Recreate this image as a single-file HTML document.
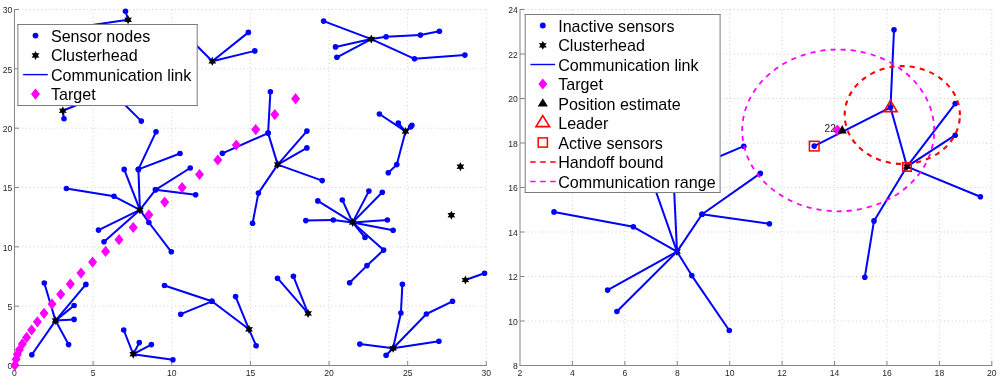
<!DOCTYPE html>
<html><head><meta charset="utf-8"><style>
html,body{margin:0;padding:0;background:#fff;width:1000px;height:380px;overflow:hidden}
svg{display:block}
</style></head><body>
<svg width="1000" height="380" viewBox="0 0 1000 380" font-family="'Liberation Sans', sans-serif">
<rect width="1000" height="380" fill="#fff"/>
<line x1="93.14" y1="9.5" x2="93.14" y2="365.5" stroke="#cdcdcd" stroke-width="1" stroke-dasharray="1 2.82"/>
<line x1="171.77" y1="9.5" x2="171.77" y2="365.5" stroke="#cdcdcd" stroke-width="1" stroke-dasharray="1 2.82"/>
<line x1="250.41" y1="9.5" x2="250.41" y2="365.5" stroke="#cdcdcd" stroke-width="1" stroke-dasharray="1 2.82"/>
<line x1="329.04" y1="9.5" x2="329.04" y2="365.5" stroke="#cdcdcd" stroke-width="1" stroke-dasharray="1 2.82"/>
<line x1="407.68" y1="9.5" x2="407.68" y2="365.5" stroke="#cdcdcd" stroke-width="1" stroke-dasharray="1 2.82"/>
<line x1="486.31" y1="9.5" x2="486.31" y2="365.5" stroke="#cdcdcd" stroke-width="1" stroke-dasharray="1 2.82"/>
<line x1="14.5" y1="306.16" x2="486.3" y2="306.16" stroke="#cdcdcd" stroke-width="1" stroke-dasharray="1 2.82"/>
<line x1="14.5" y1="246.83" x2="486.3" y2="246.83" stroke="#cdcdcd" stroke-width="1" stroke-dasharray="1 2.82"/>
<line x1="14.5" y1="187.49" x2="486.3" y2="187.49" stroke="#cdcdcd" stroke-width="1" stroke-dasharray="1 2.82"/>
<line x1="14.5" y1="128.16" x2="486.3" y2="128.16" stroke="#cdcdcd" stroke-width="1" stroke-dasharray="1 2.82"/>
<line x1="14.5" y1="68.82" x2="486.3" y2="68.82" stroke="#cdcdcd" stroke-width="1" stroke-dasharray="1 2.82"/>
<line x1="14.5" y1="9.49" x2="486.3" y2="9.49" stroke="#cdcdcd" stroke-width="1" stroke-dasharray="1 2.82"/>
<line x1="572.42" y1="9.5" x2="572.42" y2="365.5" stroke="#cdcdcd" stroke-width="1" stroke-dasharray="1 2.82"/>
<line x1="624.84" y1="9.5" x2="624.84" y2="365.5" stroke="#cdcdcd" stroke-width="1" stroke-dasharray="1 2.82"/>
<line x1="677.27" y1="9.5" x2="677.27" y2="365.5" stroke="#cdcdcd" stroke-width="1" stroke-dasharray="1 2.82"/>
<line x1="729.69" y1="9.5" x2="729.69" y2="365.5" stroke="#cdcdcd" stroke-width="1" stroke-dasharray="1 2.82"/>
<line x1="782.11" y1="9.5" x2="782.11" y2="365.5" stroke="#cdcdcd" stroke-width="1" stroke-dasharray="1 2.82"/>
<line x1="834.53" y1="9.5" x2="834.53" y2="365.5" stroke="#cdcdcd" stroke-width="1" stroke-dasharray="1 2.82"/>
<line x1="886.95" y1="9.5" x2="886.95" y2="365.5" stroke="#cdcdcd" stroke-width="1" stroke-dasharray="1 2.82"/>
<line x1="939.38" y1="9.5" x2="939.38" y2="365.5" stroke="#cdcdcd" stroke-width="1" stroke-dasharray="1 2.82"/>
<line x1="991.8" y1="9.5" x2="991.8" y2="365.5" stroke="#cdcdcd" stroke-width="1" stroke-dasharray="1 2.82"/>
<line x1="520" y1="321" x2="991.8" y2="321" stroke="#cdcdcd" stroke-width="1" stroke-dasharray="1 2.82"/>
<line x1="520" y1="276.5" x2="991.8" y2="276.5" stroke="#cdcdcd" stroke-width="1" stroke-dasharray="1 2.82"/>
<line x1="520" y1="232" x2="991.8" y2="232" stroke="#cdcdcd" stroke-width="1" stroke-dasharray="1 2.82"/>
<line x1="520" y1="187.5" x2="991.8" y2="187.5" stroke="#cdcdcd" stroke-width="1" stroke-dasharray="1 2.82"/>
<line x1="520" y1="143" x2="991.8" y2="143" stroke="#cdcdcd" stroke-width="1" stroke-dasharray="1 2.82"/>
<line x1="520" y1="98.5" x2="991.8" y2="98.5" stroke="#cdcdcd" stroke-width="1" stroke-dasharray="1 2.82"/>
<line x1="520" y1="54" x2="991.8" y2="54" stroke="#cdcdcd" stroke-width="1" stroke-dasharray="1 2.82"/>
<line x1="520" y1="9.5" x2="991.8" y2="9.5" stroke="#cdcdcd" stroke-width="1" stroke-dasharray="1 2.82"/>
<line x1="14.5" y1="9" x2="14.5" y2="366" stroke="#858585" stroke-width="1" />
<line x1="14" y1="365.5" x2="486.8" y2="365.5" stroke="#858585" stroke-width="1" />
<line x1="93.14" y1="365.5" x2="93.14" y2="361" stroke="#858585" stroke-width="1" />
<line x1="171.77" y1="365.5" x2="171.77" y2="361" stroke="#858585" stroke-width="1" />
<line x1="250.41" y1="365.5" x2="250.41" y2="361" stroke="#858585" stroke-width="1" />
<line x1="329.04" y1="365.5" x2="329.04" y2="361" stroke="#858585" stroke-width="1" />
<line x1="407.68" y1="365.5" x2="407.68" y2="361" stroke="#858585" stroke-width="1" />
<line x1="486.31" y1="365.5" x2="486.31" y2="361" stroke="#858585" stroke-width="1" />
<line x1="14.5" y1="306.16" x2="19" y2="306.16" stroke="#858585" stroke-width="1" />
<line x1="14.5" y1="246.83" x2="19" y2="246.83" stroke="#858585" stroke-width="1" />
<line x1="14.5" y1="187.49" x2="19" y2="187.49" stroke="#858585" stroke-width="1" />
<line x1="14.5" y1="128.16" x2="19" y2="128.16" stroke="#858585" stroke-width="1" />
<line x1="14.5" y1="68.82" x2="19" y2="68.82" stroke="#858585" stroke-width="1" />
<line x1="14.5" y1="9.49" x2="19" y2="9.49" stroke="#858585" stroke-width="1" />
<text transform="translate(14.5,375.9) scale(1,1.1)" font-size="8.6" text-anchor="middle" fill="#262626" >0</text>
<text transform="translate(93.14,375.9) scale(1,1.1)" font-size="8.6" text-anchor="middle" fill="#262626" >5</text>
<text transform="translate(171.77,375.9) scale(1,1.1)" font-size="8.6" text-anchor="middle" fill="#262626" >10</text>
<text transform="translate(250.41,375.9) scale(1,1.1)" font-size="8.6" text-anchor="middle" fill="#262626" >15</text>
<text transform="translate(329.04,375.9) scale(1,1.1)" font-size="8.6" text-anchor="middle" fill="#262626" >20</text>
<text transform="translate(407.68,375.9) scale(1,1.1)" font-size="8.6" text-anchor="middle" fill="#262626" >25</text>
<text transform="translate(486.31,375.9) scale(1,1.1)" font-size="8.6" text-anchor="middle" fill="#262626" >30</text>
<text transform="translate(12.2,369.2) scale(1,1.1)" font-size="8.6" text-anchor="end" fill="#262626" >0</text>
<text transform="translate(12.2,309.86) scale(1,1.1)" font-size="8.6" text-anchor="end" fill="#262626" >5</text>
<text transform="translate(12.2,250.53) scale(1,1.1)" font-size="8.6" text-anchor="end" fill="#262626" >10</text>
<text transform="translate(12.2,191.19) scale(1,1.1)" font-size="8.6" text-anchor="end" fill="#262626" >15</text>
<text transform="translate(12.2,131.86) scale(1,1.1)" font-size="8.6" text-anchor="end" fill="#262626" >20</text>
<text transform="translate(12.2,72.52) scale(1,1.1)" font-size="8.6" text-anchor="end" fill="#262626" >25</text>
<text transform="translate(12.2,13.19) scale(1,1.1)" font-size="8.6" text-anchor="end" fill="#262626" >30</text>
<line x1="520" y1="9" x2="520" y2="366" stroke="#858585" stroke-width="1" />
<line x1="519.5" y1="365.5" x2="992.3" y2="365.5" stroke="#858585" stroke-width="1" />
<line x1="572.42" y1="365.5" x2="572.42" y2="361" stroke="#858585" stroke-width="1" />
<line x1="624.84" y1="365.5" x2="624.84" y2="361" stroke="#858585" stroke-width="1" />
<line x1="677.27" y1="365.5" x2="677.27" y2="361" stroke="#858585" stroke-width="1" />
<line x1="729.69" y1="365.5" x2="729.69" y2="361" stroke="#858585" stroke-width="1" />
<line x1="782.11" y1="365.5" x2="782.11" y2="361" stroke="#858585" stroke-width="1" />
<line x1="834.53" y1="365.5" x2="834.53" y2="361" stroke="#858585" stroke-width="1" />
<line x1="886.95" y1="365.5" x2="886.95" y2="361" stroke="#858585" stroke-width="1" />
<line x1="939.38" y1="365.5" x2="939.38" y2="361" stroke="#858585" stroke-width="1" />
<line x1="991.8" y1="365.5" x2="991.8" y2="361" stroke="#858585" stroke-width="1" />
<line x1="520" y1="321" x2="524.5" y2="321" stroke="#858585" stroke-width="1" />
<line x1="520" y1="276.5" x2="524.5" y2="276.5" stroke="#858585" stroke-width="1" />
<line x1="520" y1="232" x2="524.5" y2="232" stroke="#858585" stroke-width="1" />
<line x1="520" y1="187.5" x2="524.5" y2="187.5" stroke="#858585" stroke-width="1" />
<line x1="520" y1="143" x2="524.5" y2="143" stroke="#858585" stroke-width="1" />
<line x1="520" y1="98.5" x2="524.5" y2="98.5" stroke="#858585" stroke-width="1" />
<line x1="520" y1="54" x2="524.5" y2="54" stroke="#858585" stroke-width="1" />
<line x1="520" y1="9.5" x2="524.5" y2="9.5" stroke="#858585" stroke-width="1" />
<text transform="translate(520,375.9) scale(1,1.1)" font-size="8.6" text-anchor="middle" fill="#262626" >2</text>
<text transform="translate(572.42,375.9) scale(1,1.1)" font-size="8.6" text-anchor="middle" fill="#262626" >4</text>
<text transform="translate(624.84,375.9) scale(1,1.1)" font-size="8.6" text-anchor="middle" fill="#262626" >6</text>
<text transform="translate(677.27,375.9) scale(1,1.1)" font-size="8.6" text-anchor="middle" fill="#262626" >8</text>
<text transform="translate(729.69,375.9) scale(1,1.1)" font-size="8.6" text-anchor="middle" fill="#262626" >10</text>
<text transform="translate(782.11,375.9) scale(1,1.1)" font-size="8.6" text-anchor="middle" fill="#262626" >12</text>
<text transform="translate(834.53,375.9) scale(1,1.1)" font-size="8.6" text-anchor="middle" fill="#262626" >14</text>
<text transform="translate(886.95,375.9) scale(1,1.1)" font-size="8.6" text-anchor="middle" fill="#262626" >16</text>
<text transform="translate(939.38,375.9) scale(1,1.1)" font-size="8.6" text-anchor="middle" fill="#262626" >18</text>
<text transform="translate(991.8,375.9) scale(1,1.1)" font-size="8.6" text-anchor="middle" fill="#262626" >20</text>
<text transform="translate(517.7,369.2) scale(1,1.1)" font-size="8.6" text-anchor="end" fill="#262626" >8</text>
<text transform="translate(517.7,324.7) scale(1,1.1)" font-size="8.6" text-anchor="end" fill="#262626" >10</text>
<text transform="translate(517.7,280.2) scale(1,1.1)" font-size="8.6" text-anchor="end" fill="#262626" >12</text>
<text transform="translate(517.7,235.7) scale(1,1.1)" font-size="8.6" text-anchor="end" fill="#262626" >14</text>
<text transform="translate(517.7,191.2) scale(1,1.1)" font-size="8.6" text-anchor="end" fill="#262626" >16</text>
<text transform="translate(517.7,146.7) scale(1,1.1)" font-size="8.6" text-anchor="end" fill="#262626" >18</text>
<text transform="translate(517.7,102.2) scale(1,1.1)" font-size="8.6" text-anchor="end" fill="#262626" >20</text>
<text transform="translate(517.7,57.7) scale(1,1.1)" font-size="8.6" text-anchor="end" fill="#262626" >22</text>
<text transform="translate(517.7,13.2) scale(1,1.1)" font-size="8.6" text-anchor="end" fill="#262626" >24</text>
<line x1="128.1" y1="19.8" x2="125.5" y2="11.25" stroke="#0000ff" stroke-width="2.0" />
<line x1="128.1" y1="19.8" x2="60" y2="29.7" stroke="#0000ff" stroke-width="2.0" />
<line x1="62.8" y1="110.75" x2="64" y2="118.75" stroke="#0000ff" stroke-width="2.0" />
<line x1="62.8" y1="110.75" x2="90" y2="99.5" stroke="#0000ff" stroke-width="2.0" />
<line x1="212.3" y1="61.3" x2="248.4" y2="32.4" stroke="#0000ff" stroke-width="2.0" />
<line x1="212.3" y1="61.3" x2="254.8" y2="50.9" stroke="#0000ff" stroke-width="2.0" />
<line x1="212.3" y1="61.3" x2="185" y2="34" stroke="#0000ff" stroke-width="2.0" />
<line x1="371.3" y1="39.1" x2="323.6" y2="21.1" stroke="#0000ff" stroke-width="2.0" />
<line x1="371.3" y1="39.1" x2="335.5" y2="46.9" stroke="#0000ff" stroke-width="2.0" />
<line x1="371.3" y1="39.1" x2="336.9" y2="57.3" stroke="#0000ff" stroke-width="2.0" />
<line x1="371.3" y1="39.1" x2="386.1" y2="36.7" stroke="#0000ff" stroke-width="2.0" />
<line x1="386.1" y1="36.7" x2="420.4" y2="35.1" stroke="#0000ff" stroke-width="2.0" />
<line x1="420.4" y1="35.1" x2="439.4" y2="31.3" stroke="#0000ff" stroke-width="2.0" />
<line x1="371.3" y1="39.1" x2="414.5" y2="58.8" stroke="#0000ff" stroke-width="2.0" />
<line x1="414.5" y1="58.8" x2="464.9" y2="55.1" stroke="#0000ff" stroke-width="2.0" />
<line x1="139.9" y1="209.9" x2="124.2" y2="169.4" stroke="#0000ff" stroke-width="2.0" />
<line x1="139.9" y1="209.9" x2="138.4" y2="169.4" stroke="#0000ff" stroke-width="2.0" />
<line x1="138.4" y1="169.4" x2="156" y2="131.8" stroke="#0000ff" stroke-width="2.0" />
<line x1="138.4" y1="169.4" x2="180" y2="153.5" stroke="#0000ff" stroke-width="2.0" />
<line x1="139.9" y1="209.9" x2="114" y2="196.3" stroke="#0000ff" stroke-width="2.0" />
<line x1="114" y1="196.3" x2="66.4" y2="188.5" stroke="#0000ff" stroke-width="2.0" />
<line x1="139.9" y1="209.9" x2="155.5" y2="189.8" stroke="#0000ff" stroke-width="2.0" />
<line x1="155.5" y1="189.8" x2="190.2" y2="168" stroke="#0000ff" stroke-width="2.0" />
<line x1="155.5" y1="189.8" x2="195.6" y2="194.8" stroke="#0000ff" stroke-width="2.0" />
<line x1="139.9" y1="209.9" x2="98.5" y2="230.1" stroke="#0000ff" stroke-width="2.0" />
<line x1="139.9" y1="209.9" x2="104" y2="241.7" stroke="#0000ff" stroke-width="2.0" />
<line x1="139.9" y1="209.9" x2="148.9" y2="222.5" stroke="#0000ff" stroke-width="2.0" />
<line x1="148.9" y1="222.5" x2="171.3" y2="251.8" stroke="#0000ff" stroke-width="2.0" />
<line x1="141.3" y1="121.1" x2="110" y2="90" stroke="#0000ff" stroke-width="2.0" />
<line x1="277.7" y1="164.6" x2="268.1" y2="133.1" stroke="#0000ff" stroke-width="2.0" />
<line x1="268.1" y1="133.1" x2="270.4" y2="91.7" stroke="#0000ff" stroke-width="2.0" />
<line x1="268.1" y1="133.1" x2="222.4" y2="153.3" stroke="#0000ff" stroke-width="2.0" />
<line x1="277.7" y1="164.6" x2="306.9" y2="131.1" stroke="#0000ff" stroke-width="2.0" />
<line x1="277.7" y1="164.6" x2="306.9" y2="147.9" stroke="#0000ff" stroke-width="2.0" />
<line x1="277.7" y1="164.6" x2="322.2" y2="180.6" stroke="#0000ff" stroke-width="2.0" />
<line x1="277.7" y1="164.6" x2="258.4" y2="193.1" stroke="#0000ff" stroke-width="2.0" />
<line x1="258.4" y1="193.1" x2="252.6" y2="223.3" stroke="#0000ff" stroke-width="2.0" />
<line x1="405.5" y1="131.4" x2="398.3" y2="123.1" stroke="#0000ff" stroke-width="2.0" />
<line x1="405.5" y1="131.4" x2="379.4" y2="114" stroke="#0000ff" stroke-width="2.0" />
<line x1="405.5" y1="131.4" x2="410.6" y2="127" stroke="#0000ff" stroke-width="2.0" />
<line x1="405.5" y1="131.4" x2="411.9" y2="125.3" stroke="#0000ff" stroke-width="2.0" />
<line x1="405.5" y1="131.4" x2="396.8" y2="164.6" stroke="#0000ff" stroke-width="2.0" />
<line x1="396.8" y1="164.6" x2="388.3" y2="172.8" stroke="#0000ff" stroke-width="2.0" />
<line x1="352.6" y1="222.4" x2="317.8" y2="200.9" stroke="#0000ff" stroke-width="2.0" />
<line x1="352.6" y1="222.4" x2="342.3" y2="200" stroke="#0000ff" stroke-width="2.0" />
<line x1="352.6" y1="222.4" x2="368.9" y2="191.1" stroke="#0000ff" stroke-width="2.0" />
<line x1="352.6" y1="222.4" x2="382.3" y2="192.3" stroke="#0000ff" stroke-width="2.0" />
<line x1="352.6" y1="222.4" x2="387.4" y2="220" stroke="#0000ff" stroke-width="2.0" />
<line x1="352.6" y1="222.4" x2="393.1" y2="230.2" stroke="#0000ff" stroke-width="2.0" />
<line x1="352.6" y1="222.4" x2="365" y2="237.5" stroke="#0000ff" stroke-width="2.0" />
<line x1="352.6" y1="222.4" x2="333.3" y2="220" stroke="#0000ff" stroke-width="2.0" />
<line x1="333.3" y1="220" x2="305.8" y2="220.6" stroke="#0000ff" stroke-width="2.0" />
<line x1="352.6" y1="222.4" x2="383.6" y2="250.1" stroke="#0000ff" stroke-width="2.0" />
<line x1="383.6" y1="250.1" x2="367" y2="265.6" stroke="#0000ff" stroke-width="2.0" />
<line x1="367" y1="265.6" x2="349.6" y2="282.7" stroke="#0000ff" stroke-width="2.0" />
<line x1="55.5" y1="320.6" x2="44.3" y2="283" stroke="#0000ff" stroke-width="2.0" />
<line x1="55.5" y1="320.6" x2="85.9" y2="284.4" stroke="#0000ff" stroke-width="2.0" />
<line x1="55.5" y1="320.6" x2="74.1" y2="305.5" stroke="#0000ff" stroke-width="2.0" />
<line x1="55.5" y1="320.6" x2="74.1" y2="319.4" stroke="#0000ff" stroke-width="2.0" />
<line x1="55.5" y1="320.6" x2="68.6" y2="344.6" stroke="#0000ff" stroke-width="2.0" />
<line x1="55.5" y1="320.6" x2="31.8" y2="354.7" stroke="#0000ff" stroke-width="2.0" />
<line x1="133.2" y1="354.2" x2="123.7" y2="330" stroke="#0000ff" stroke-width="2.0" />
<line x1="133.2" y1="354.2" x2="139.3" y2="342.6" stroke="#0000ff" stroke-width="2.0" />
<line x1="133.2" y1="354.2" x2="151.4" y2="344.6" stroke="#0000ff" stroke-width="2.0" />
<line x1="133.2" y1="354.2" x2="172.9" y2="359.7" stroke="#0000ff" stroke-width="2.0" />
<line x1="249" y1="329.3" x2="211.9" y2="301.3" stroke="#0000ff" stroke-width="2.0" />
<line x1="211.9" y1="301.3" x2="164.5" y2="285.5" stroke="#0000ff" stroke-width="2.0" />
<line x1="211.9" y1="301.3" x2="180.7" y2="314.2" stroke="#0000ff" stroke-width="2.0" />
<line x1="249" y1="329.3" x2="235.6" y2="296.6" stroke="#0000ff" stroke-width="2.0" />
<line x1="249" y1="329.3" x2="256.1" y2="345.7" stroke="#0000ff" stroke-width="2.0" />
<line x1="308.1" y1="313.4" x2="277.5" y2="278.2" stroke="#0000ff" stroke-width="2.0" />
<line x1="308.1" y1="313.4" x2="293.4" y2="276.3" stroke="#0000ff" stroke-width="2.0" />
<line x1="393.1" y1="348.3" x2="359.8" y2="344.1" stroke="#0000ff" stroke-width="2.0" />
<line x1="393.1" y1="348.3" x2="386.1" y2="355.3" stroke="#0000ff" stroke-width="2.0" />
<line x1="393.1" y1="348.3" x2="400.9" y2="313" stroke="#0000ff" stroke-width="2.0" />
<line x1="400.9" y1="313" x2="402.4" y2="284.2" stroke="#0000ff" stroke-width="2.0" />
<line x1="393.1" y1="348.3" x2="426.4" y2="314" stroke="#0000ff" stroke-width="2.0" />
<line x1="426.4" y1="314" x2="452.5" y2="301.3" stroke="#0000ff" stroke-width="2.0" />
<line x1="393.1" y1="348.3" x2="438.9" y2="341.3" stroke="#0000ff" stroke-width="2.0" />
<line x1="465.4" y1="280" x2="484.5" y2="273.2" stroke="#0000ff" stroke-width="2.0" />
<circle cx="125.5" cy="11.25" r="2.8" fill="#0000ff"/>
<circle cx="64" cy="118.75" r="2.8" fill="#0000ff"/>
<circle cx="248.4" cy="32.4" r="2.8" fill="#0000ff"/>
<circle cx="254.8" cy="50.9" r="2.8" fill="#0000ff"/>
<circle cx="323.6" cy="21.1" r="2.8" fill="#0000ff"/>
<circle cx="335.5" cy="46.9" r="2.8" fill="#0000ff"/>
<circle cx="336.9" cy="57.3" r="2.8" fill="#0000ff"/>
<circle cx="386.1" cy="36.7" r="2.8" fill="#0000ff"/>
<circle cx="420.4" cy="35.1" r="2.8" fill="#0000ff"/>
<circle cx="439.4" cy="31.3" r="2.8" fill="#0000ff"/>
<circle cx="414.5" cy="58.8" r="2.8" fill="#0000ff"/>
<circle cx="464.9" cy="55.1" r="2.8" fill="#0000ff"/>
<circle cx="124.2" cy="169.4" r="2.8" fill="#0000ff"/>
<circle cx="138.4" cy="169.4" r="2.8" fill="#0000ff"/>
<circle cx="156" cy="131.8" r="2.8" fill="#0000ff"/>
<circle cx="138.4" cy="169.4" r="2.8" fill="#0000ff"/>
<circle cx="180" cy="153.5" r="2.8" fill="#0000ff"/>
<circle cx="114" cy="196.3" r="2.8" fill="#0000ff"/>
<circle cx="66.4" cy="188.5" r="2.8" fill="#0000ff"/>
<circle cx="155.5" cy="189.8" r="2.8" fill="#0000ff"/>
<circle cx="190.2" cy="168" r="2.8" fill="#0000ff"/>
<circle cx="155.5" cy="189.8" r="2.8" fill="#0000ff"/>
<circle cx="195.6" cy="194.8" r="2.8" fill="#0000ff"/>
<circle cx="98.5" cy="230.1" r="2.8" fill="#0000ff"/>
<circle cx="104" cy="241.7" r="2.8" fill="#0000ff"/>
<circle cx="148.9" cy="222.5" r="2.8" fill="#0000ff"/>
<circle cx="171.3" cy="251.8" r="2.8" fill="#0000ff"/>
<circle cx="141.3" cy="121.1" r="2.8" fill="#0000ff"/>
<circle cx="268.1" cy="133.1" r="2.8" fill="#0000ff"/>
<circle cx="270.4" cy="91.7" r="2.8" fill="#0000ff"/>
<circle cx="268.1" cy="133.1" r="2.8" fill="#0000ff"/>
<circle cx="222.4" cy="153.3" r="2.8" fill="#0000ff"/>
<circle cx="306.9" cy="131.1" r="2.8" fill="#0000ff"/>
<circle cx="306.9" cy="147.9" r="2.8" fill="#0000ff"/>
<circle cx="322.2" cy="180.6" r="2.8" fill="#0000ff"/>
<circle cx="258.4" cy="193.1" r="2.8" fill="#0000ff"/>
<circle cx="252.6" cy="223.3" r="2.8" fill="#0000ff"/>
<circle cx="398.3" cy="123.1" r="2.8" fill="#0000ff"/>
<circle cx="379.4" cy="114" r="2.8" fill="#0000ff"/>
<circle cx="410.6" cy="127" r="2.8" fill="#0000ff"/>
<circle cx="411.9" cy="125.3" r="2.8" fill="#0000ff"/>
<circle cx="396.8" cy="164.6" r="2.8" fill="#0000ff"/>
<circle cx="388.3" cy="172.8" r="2.8" fill="#0000ff"/>
<circle cx="317.8" cy="200.9" r="2.8" fill="#0000ff"/>
<circle cx="342.3" cy="200" r="2.8" fill="#0000ff"/>
<circle cx="368.9" cy="191.1" r="2.8" fill="#0000ff"/>
<circle cx="382.3" cy="192.3" r="2.8" fill="#0000ff"/>
<circle cx="387.4" cy="220" r="2.8" fill="#0000ff"/>
<circle cx="393.1" cy="230.2" r="2.8" fill="#0000ff"/>
<circle cx="365" cy="237.5" r="2.8" fill="#0000ff"/>
<circle cx="333.3" cy="220" r="2.8" fill="#0000ff"/>
<circle cx="305.8" cy="220.6" r="2.8" fill="#0000ff"/>
<circle cx="383.6" cy="250.1" r="2.8" fill="#0000ff"/>
<circle cx="367" cy="265.6" r="2.8" fill="#0000ff"/>
<circle cx="349.6" cy="282.7" r="2.8" fill="#0000ff"/>
<circle cx="44.3" cy="283" r="2.8" fill="#0000ff"/>
<circle cx="85.9" cy="284.4" r="2.8" fill="#0000ff"/>
<circle cx="74.1" cy="305.5" r="2.8" fill="#0000ff"/>
<circle cx="74.1" cy="319.4" r="2.8" fill="#0000ff"/>
<circle cx="68.6" cy="344.6" r="2.8" fill="#0000ff"/>
<circle cx="31.8" cy="354.7" r="2.8" fill="#0000ff"/>
<circle cx="123.7" cy="330" r="2.8" fill="#0000ff"/>
<circle cx="139.3" cy="342.6" r="2.8" fill="#0000ff"/>
<circle cx="151.4" cy="344.6" r="2.8" fill="#0000ff"/>
<circle cx="172.9" cy="359.7" r="2.8" fill="#0000ff"/>
<circle cx="211.9" cy="301.3" r="2.8" fill="#0000ff"/>
<circle cx="164.5" cy="285.5" r="2.8" fill="#0000ff"/>
<circle cx="211.9" cy="301.3" r="2.8" fill="#0000ff"/>
<circle cx="180.7" cy="314.2" r="2.8" fill="#0000ff"/>
<circle cx="235.6" cy="296.6" r="2.8" fill="#0000ff"/>
<circle cx="256.1" cy="345.7" r="2.8" fill="#0000ff"/>
<circle cx="277.5" cy="278.2" r="2.8" fill="#0000ff"/>
<circle cx="293.4" cy="276.3" r="2.8" fill="#0000ff"/>
<circle cx="359.8" cy="344.1" r="2.8" fill="#0000ff"/>
<circle cx="386.1" cy="355.3" r="2.8" fill="#0000ff"/>
<circle cx="400.9" cy="313" r="2.8" fill="#0000ff"/>
<circle cx="402.4" cy="284.2" r="2.8" fill="#0000ff"/>
<circle cx="426.4" cy="314" r="2.8" fill="#0000ff"/>
<circle cx="452.5" cy="301.3" r="2.8" fill="#0000ff"/>
<circle cx="438.9" cy="341.3" r="2.8" fill="#0000ff"/>
<circle cx="484.5" cy="273.2" r="2.8" fill="#0000ff"/>
<polygon points="14.9,359.6 19.4,365.2 14.9,370.8 10.4,365.2" fill="#ff00ff"/>
<polygon points="16.1,353.6 20.6,359.2 16.1,364.8 11.6,359.2" fill="#ff00ff"/>
<polygon points="17.4,349 21.9,354.6 17.4,360.2 12.9,354.6" fill="#ff00ff"/>
<polygon points="19.4,344.2 23.9,349.8 19.4,355.4 14.9,349.8" fill="#ff00ff"/>
<polygon points="22.4,338.3 26.9,343.9 22.4,349.5 17.9,343.9" fill="#ff00ff"/>
<polygon points="26.6,331.8 31.1,337.4 26.6,343 22.1,337.4" fill="#ff00ff"/>
<polygon points="31.6,324.4 36.1,330 31.6,335.6 27.1,330" fill="#ff00ff"/>
<polygon points="37.4,316.2 41.9,321.8 37.4,327.4 32.9,321.8" fill="#ff00ff"/>
<polygon points="44,307.7 48.5,313.3 44,318.9 39.5,313.3" fill="#ff00ff"/>
<polygon points="52,298.4 56.5,304 52,309.6 47.5,304" fill="#ff00ff"/>
<polygon points="60.7,288.7 65.2,294.3 60.7,299.9 56.2,294.3" fill="#ff00ff"/>
<polygon points="70.3,278.5 74.8,284.1 70.3,289.7 65.8,284.1" fill="#ff00ff"/>
<polygon points="81,267.5 85.5,273.1 81,278.7 76.5,273.1" fill="#ff00ff"/>
<polygon points="92.6,256.5 97.1,262.1 92.6,267.7 88.1,262.1" fill="#ff00ff"/>
<polygon points="105.6,245.8 110.1,251.4 105.6,257 101.1,251.4" fill="#ff00ff"/>
<polygon points="119,234.1 123.5,239.7 119,245.3 114.5,239.7" fill="#ff00ff"/>
<polygon points="133.2,221.9 137.7,227.5 133.2,233.1 128.7,227.5" fill="#ff00ff"/>
<polygon points="148.8,209.2 153.3,214.8 148.8,220.4 144.3,214.8" fill="#ff00ff"/>
<polygon points="164.7,196.5 169.2,202.1 164.7,207.7 160.2,202.1" fill="#ff00ff"/>
<polygon points="182.1,182 186.6,187.6 182.1,193.2 177.6,187.6" fill="#ff00ff"/>
<polygon points="199.5,168.9 204,174.5 199.5,180.1 195,174.5" fill="#ff00ff"/>
<polygon points="217.8,154.4 222.3,160 217.8,165.6 213.3,160" fill="#ff00ff"/>
<polygon points="236.3,139.4 240.8,145 236.3,150.6 231.8,145" fill="#ff00ff"/>
<polygon points="255.7,124 260.2,129.6 255.7,135.2 251.2,129.6" fill="#ff00ff"/>
<polygon points="274.8,109 279.3,114.6 274.8,120.2 270.3,114.6" fill="#ff00ff"/>
<polygon points="295.6,93.1 300.1,98.7 295.6,104.3 291.1,98.7" fill="#ff00ff"/>
<polygon points="128.1,15.3 129.3,17.72 132,17.55 130.5,19.8 132,22.05 129.3,21.88 128.1,24.3 126.9,21.88 124.2,22.05 125.7,19.8 124.2,17.55 126.9,17.72" fill="#000"/>
<polygon points="62.8,106.25 64,108.67 66.7,108.5 65.2,110.75 66.7,113 64,112.83 62.8,115.25 61.6,112.83 58.9,113 60.4,110.75 58.9,108.5 61.6,108.67" fill="#000"/>
<polygon points="212.3,56.8 213.5,59.22 216.2,59.05 214.7,61.3 216.2,63.55 213.5,63.38 212.3,65.8 211.1,63.38 208.4,63.55 209.9,61.3 208.4,59.05 211.1,59.22" fill="#000"/>
<polygon points="371.3,34.6 372.5,37.02 375.2,36.85 373.7,39.1 375.2,41.35 372.5,41.18 371.3,43.6 370.1,41.18 367.4,41.35 368.9,39.1 367.4,36.85 370.1,37.02" fill="#000"/>
<polygon points="139.9,205.4 141.1,207.82 143.8,207.65 142.3,209.9 143.8,212.15 141.1,211.98 139.9,214.4 138.7,211.98 136,212.15 137.5,209.9 136,207.65 138.7,207.82" fill="#000"/>
<polygon points="277.7,160.1 278.9,162.52 281.6,162.35 280.1,164.6 281.6,166.85 278.9,166.68 277.7,169.1 276.5,166.68 273.8,166.85 275.3,164.6 273.8,162.35 276.5,162.52" fill="#000"/>
<polygon points="405.5,126.9 406.7,129.32 409.4,129.15 407.9,131.4 409.4,133.65 406.7,133.48 405.5,135.9 404.3,133.48 401.6,133.65 403.1,131.4 401.6,129.15 404.3,129.32" fill="#000"/>
<polygon points="460.4,162.2 461.6,164.62 464.3,164.45 462.8,166.7 464.3,168.95 461.6,168.78 460.4,171.2 459.2,168.78 456.5,168.95 458,166.7 456.5,164.45 459.2,164.62" fill="#000"/>
<polygon points="451.4,210.7 452.6,213.12 455.3,212.95 453.8,215.2 455.3,217.45 452.6,217.28 451.4,219.7 450.2,217.28 447.5,217.45 449,215.2 447.5,212.95 450.2,213.12" fill="#000"/>
<polygon points="352.6,217.9 353.8,220.32 356.5,220.15 355,222.4 356.5,224.65 353.8,224.48 352.6,226.9 351.4,224.48 348.7,224.65 350.2,222.4 348.7,220.15 351.4,220.32" fill="#000"/>
<polygon points="55.5,316.1 56.7,318.52 59.4,318.35 57.9,320.6 59.4,322.85 56.7,322.68 55.5,325.1 54.3,322.68 51.6,322.85 53.1,320.6 51.6,318.35 54.3,318.52" fill="#000"/>
<polygon points="133.2,349.7 134.4,352.12 137.1,351.95 135.6,354.2 137.1,356.45 134.4,356.28 133.2,358.7 132,356.28 129.3,356.45 130.8,354.2 129.3,351.95 132,352.12" fill="#000"/>
<polygon points="249,324.8 250.2,327.22 252.9,327.05 251.4,329.3 252.9,331.55 250.2,331.38 249,333.8 247.8,331.38 245.1,331.55 246.6,329.3 245.1,327.05 247.8,327.22" fill="#000"/>
<polygon points="308.1,308.9 309.3,311.32 312,311.15 310.5,313.4 312,315.65 309.3,315.48 308.1,317.9 306.9,315.48 304.2,315.65 305.7,313.4 304.2,311.15 306.9,311.32" fill="#000"/>
<polygon points="393.1,343.8 394.3,346.22 397,346.05 395.5,348.3 397,350.55 394.3,350.38 393.1,352.8 391.9,350.38 389.2,350.55 390.7,348.3 389.2,346.05 391.9,346.22" fill="#000"/>
<polygon points="465.4,275.5 466.6,277.92 469.3,277.75 467.8,280 469.3,282.25 466.6,282.08 465.4,284.5 464.2,282.08 461.5,282.25 463,280 461.5,277.75 464.2,277.92" fill="#000"/>
<polygon points="677,247.1 678.2,249.52 680.9,249.35 679.4,251.6 680.9,253.85 678.2,253.68 677,256.1 675.8,253.68 673.1,253.85 674.6,251.6 673.1,249.35 675.8,249.52" fill="#000"/>
<line x1="677" y1="251.6" x2="633.3" y2="226.8" stroke="#0000ff" stroke-width="2.0" />
<line x1="633.3" y1="226.8" x2="554" y2="211.9" stroke="#0000ff" stroke-width="2.0" />
<line x1="677" y1="251.6" x2="640" y2="146" stroke="#0000ff" stroke-width="2.0" />
<line x1="677" y1="251.6" x2="673.5" y2="176" stroke="#0000ff" stroke-width="2.0" />
<line x1="673.5" y1="176" x2="743.8" y2="146.2" stroke="#0000ff" stroke-width="2.0" />
<line x1="677" y1="251.6" x2="702.1" y2="214.3" stroke="#0000ff" stroke-width="2.0" />
<line x1="702.1" y1="214.3" x2="760.3" y2="173.4" stroke="#0000ff" stroke-width="2.0" />
<line x1="702.1" y1="214.3" x2="769.4" y2="223.8" stroke="#0000ff" stroke-width="2.0" />
<line x1="677" y1="251.6" x2="691.8" y2="275.6" stroke="#0000ff" stroke-width="2.0" />
<line x1="691.8" y1="275.6" x2="729.3" y2="330.5" stroke="#0000ff" stroke-width="2.0" />
<line x1="677" y1="251.6" x2="607.6" y2="290.1" stroke="#0000ff" stroke-width="2.0" />
<line x1="677" y1="251.6" x2="616.9" y2="311.5" stroke="#0000ff" stroke-width="2.0" />
<line x1="907" y1="166.6" x2="890.5" y2="107.4" stroke="#0000ff" stroke-width="2.0" />
<line x1="907" y1="166.6" x2="955.2" y2="103.6" stroke="#0000ff" stroke-width="2.0" />
<line x1="907" y1="166.6" x2="955.2" y2="135.2" stroke="#0000ff" stroke-width="2.0" />
<line x1="907" y1="166.6" x2="980.4" y2="196.7" stroke="#0000ff" stroke-width="2.0" />
<line x1="907" y1="166.6" x2="874" y2="220.9" stroke="#0000ff" stroke-width="2.0" />
<line x1="874" y1="220.9" x2="864.8" y2="277.2" stroke="#0000ff" stroke-width="2.0" />
<line x1="890.5" y1="107.4" x2="894" y2="29.8" stroke="#0000ff" stroke-width="2.0" />
<line x1="890.5" y1="107.4" x2="814.2" y2="146.1" stroke="#0000ff" stroke-width="2.0" />
<circle cx="633.3" cy="226.8" r="2.8" fill="#0000ff"/>
<circle cx="554" cy="211.9" r="2.8" fill="#0000ff"/>
<circle cx="743.8" cy="146.2" r="2.8" fill="#0000ff"/>
<circle cx="702.1" cy="214.3" r="2.8" fill="#0000ff"/>
<circle cx="760.3" cy="173.4" r="2.8" fill="#0000ff"/>
<circle cx="702.1" cy="214.3" r="2.8" fill="#0000ff"/>
<circle cx="769.4" cy="223.8" r="2.8" fill="#0000ff"/>
<circle cx="691.8" cy="275.6" r="2.8" fill="#0000ff"/>
<circle cx="729.3" cy="330.5" r="2.8" fill="#0000ff"/>
<circle cx="607.6" cy="290.1" r="2.8" fill="#0000ff"/>
<circle cx="616.9" cy="311.5" r="2.8" fill="#0000ff"/>
<circle cx="955.2" cy="103.6" r="2.8" fill="#0000ff"/>
<circle cx="955.2" cy="135.2" r="2.8" fill="#0000ff"/>
<circle cx="980.4" cy="196.7" r="2.8" fill="#0000ff"/>
<circle cx="874" cy="220.9" r="2.8" fill="#0000ff"/>
<circle cx="864.8" cy="277.2" r="2.8" fill="#0000ff"/>
<circle cx="894" cy="29.8" r="2.8" fill="#0000ff"/>
<circle cx="814.2" cy="146.1" r="2.8" fill="#0000ff"/>
<circle cx="890.5" cy="107.4" r="2.8" fill="#0000ff"/>
<polygon points="907,162.1 908.2,164.52 910.9,164.35 909.4,166.6 910.9,168.85 908.2,168.68 907,171.1 905.8,168.68 903.1,168.85 904.6,166.6 903.1,164.35 905.8,164.52" fill="#000"/>
<ellipse cx="838.2" cy="130.4" rx="96" ry="80.9" fill="none" stroke="#ff00ff" stroke-width="1.8" stroke-dasharray="5.07 5.07" stroke-dashoffset="6.53"/>
<ellipse cx="902.3" cy="115" rx="57.6" ry="48.9" fill="none" stroke="#ff0000" stroke-width="2.1" stroke-dasharray="5.1 5.1" stroke-dashoffset="6.76"/>
<polygon points="837.4,124.6 841.9,130.2 837.4,135.8 832.9,130.2" fill="#ff00ff"/>
<polygon points="842.2,125.1 846.8,133.5 837.6,133.5" fill="#000" stroke="none" stroke-width="0"/>
<text x="835.8" y="132" font-size="10.1" text-anchor="end" fill="#1a1a1a" >22</text>
<rect x="809.4" y="141.3" width="9.6" height="9.6" fill="none" stroke="#ff0000" stroke-width="1.5"/>
<rect x="902.7" y="162.7" width="8.5" height="8.5" fill="none" stroke="#ff0000" stroke-width="1.6"/>
<polygon points="890.5,100.3 897.1,111.6 883.9,111.6" fill="none" stroke="#ff0000" stroke-width="1.6"/>
<rect x="17.9" y="24.5" width="179.3" height="81" fill="#fff"/>
<line x1="17.9" y1="24" x2="17.9" y2="106" stroke="#7c7c7c" stroke-width="1" />
<line x1="197.2" y1="24" x2="197.2" y2="106" stroke="#7c7c7c" stroke-width="1" />
<line x1="17.4" y1="24.5" x2="197.7" y2="24.5" stroke="#7c7c7c" stroke-width="1" />
<line x1="17.4" y1="105.5" x2="197.7" y2="105.5" stroke="#7c7c7c" stroke-width="1" />
<circle cx="35.5" cy="35.6" r="2.9" fill="#0000ff"/>
<text x="50.9" y="41.8" font-size="16.1" text-anchor="start" fill="#000" >Sensor nodes</text>
<polygon points="35.5,50.9 36.7,53.32 39.4,53.15 37.9,55.4 39.4,57.65 36.7,57.48 35.5,59.9 34.3,57.48 31.6,57.65 33.1,55.4 31.6,53.15 34.3,53.32" fill="#000"/>
<text x="50.9" y="61.3" font-size="16.1" text-anchor="start" fill="#000" >Clusterhead</text>
<line x1="23.1" y1="74.6" x2="47.8" y2="74.6" stroke="#0000ff" stroke-width="1.4" />
<text x="50.9" y="80.8" font-size="16.1" text-anchor="start" fill="#000" >Communication link</text>
<polygon points="35.5,88.5 40,94.1 35.5,99.7 31,94.1" fill="#ff00ff"/>
<text x="50.9" y="100.3" font-size="16.1" text-anchor="start" fill="#000" >Target</text>
<rect x="525.2" y="14.5" width="194.9" height="178" fill="#fff"/>
<line x1="525.2" y1="14" x2="525.2" y2="193" stroke="#7c7c7c" stroke-width="1" />
<line x1="720.1" y1="14" x2="720.1" y2="193" stroke="#7c7c7c" stroke-width="1" />
<line x1="524.7" y1="14.5" x2="720.6" y2="14.5" stroke="#7c7c7c" stroke-width="1" />
<line x1="524.7" y1="192.5" x2="720.6" y2="192.5" stroke="#7c7c7c" stroke-width="1" />
<circle cx="542.8" cy="25.5" r="2.9" fill="#0000ff"/>
<text x="558.2" y="31.5" font-size="16.1" text-anchor="start" fill="#000" >Inactive sensors</text>
<polygon points="542.8,40.8 544,43.22 546.7,43.05 545.2,45.3 546.7,47.55 544,47.38 542.8,49.8 541.6,47.38 538.9,47.55 540.4,45.3 538.9,43.05 541.6,43.22" fill="#000"/>
<text x="558.2" y="51" font-size="16.1" text-anchor="start" fill="#000" >Clusterhead</text>
<line x1="530.4" y1="64.5" x2="555.1" y2="64.5" stroke="#0000ff" stroke-width="1.4" />
<text x="558.2" y="70.5" font-size="16.1" text-anchor="start" fill="#000" >Communication link</text>
<polygon points="542.8,78.4 547.3,84 542.8,89.6 538.3,84" fill="#ff00ff"/>
<text x="558.2" y="90" font-size="16.1" text-anchor="start" fill="#000" >Target</text>
<polygon points="542.8,98.2 547.9,106.4 537.7,106.4" fill="#000" stroke="none" stroke-width="0"/>
<text x="558.2" y="109.5" font-size="16.1" text-anchor="start" fill="#000" >Position estimate</text>
<polygon points="542.8,115.6 549.6,126.6 536,126.6" fill="none" stroke="#ff0000" stroke-width="1.6"/>
<text x="558.2" y="129" font-size="16.1" text-anchor="start" fill="#000" >Leader</text>
<rect x="538.2" y="137.9" width="9.2" height="9.2" fill="none" stroke="#ff0000" stroke-width="1.5"/>
<text x="558.2" y="148.5" font-size="16.1" text-anchor="start" fill="#000" >Active sensors</text>
<line x1="530.2" y1="162" x2="556.2" y2="162" stroke="#ff0000" stroke-width="1.7" stroke-dasharray="5.5 4.5"/>
<text x="558.2" y="168" font-size="16.1" text-anchor="start" fill="#000" >Handoff bound</text>
<line x1="530.2" y1="181.5" x2="556.2" y2="181.5" stroke="#ff00ff" stroke-width="1.7" stroke-dasharray="5.5 4.5"/>
<text x="558.2" y="187.5" font-size="16.1" text-anchor="start" fill="#000" >Communication range</text>
</svg>
</body></html>
